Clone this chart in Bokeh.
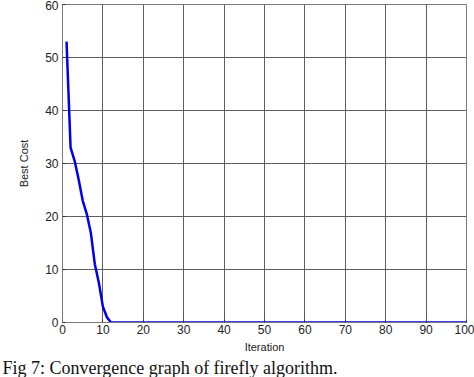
from bokeh.plotting import figure
from bokeh.models import Range1d, Title, FixedTicker
from bokeh.embed import file_html
from bokeh.resources import INLINE

iterations = [1, 2, 3, 4, 5, 6, 7, 8, 9, 10, 11, 12, 20, 40, 60, 80, 100]
best_cost = [53, 33, 30.5, 27, 23, 20.5, 17, 11, 7.5, 3, 1, 0, 0, 0, 0, 0, 0]
x_ticks = [0, 10, 20, 30, 40, 50, 60, 70, 80, 90, 100]
y_ticks = [0, 10, 20, 30, 40, 50, 60]
caption = "Fig 7: Convergence graph of firefly algorithm."

p = figure(width=474, height=377, output_backend="svg", toolbar_location=None,
           x_range=Range1d(0, 100), y_range=Range1d(0, 60),
           min_border_left=62, min_border_right=8, min_border_top=4, min_border_bottom=0)

p.line(iterations, best_cost, line_color="#0000ee", line_width=2.5)

for ax in (p.xaxis[0], p.yaxis[0]):
    ax.axis_line_color = "#7a7a7a"
    ax.major_tick_line_color = "#333333"
    ax.major_tick_in = 3
    ax.major_tick_out = 0
    ax.minor_tick_line_color = None
    ax.major_label_text_font = "Liberation Sans"
    ax.major_label_text_font_size = "12px"
    ax.major_label_text_color = "#222222"
    ax.axis_label_text_font = "Liberation Sans"
    ax.axis_label_text_font_size = "11px"
    ax.axis_label_text_font_style = "normal"
    ax.axis_label_text_color = "#222222"

p.xaxis[0].ticker = FixedTicker(ticks=x_ticks)
p.yaxis[0].ticker = FixedTicker(ticks=y_ticks)
p.xaxis[0].axis_label = "Iteration"
p.yaxis[0].axis_label = "Best Cost"
p.xaxis[0].major_label_standoff = 2
p.yaxis[0].major_label_standoff = 4
p.xaxis[0].axis_label_standoff = 4
p.yaxis[0].axis_label_standoff = 12

p.grid.grid_line_color = "#5e5e5e"
p.grid.grid_line_width = 1
p.outline_line_color = "#7a7a7a"
p.outline_line_width = 1

p.add_layout(Title(text=caption, align="left", offset=-60, standoff=0,
                   text_font="Liberation Serif", text_font_size="18px",
                   text_font_style="normal", text_color="#111111"), "below")

open("out.html", "w").write(file_html(p, INLINE))
